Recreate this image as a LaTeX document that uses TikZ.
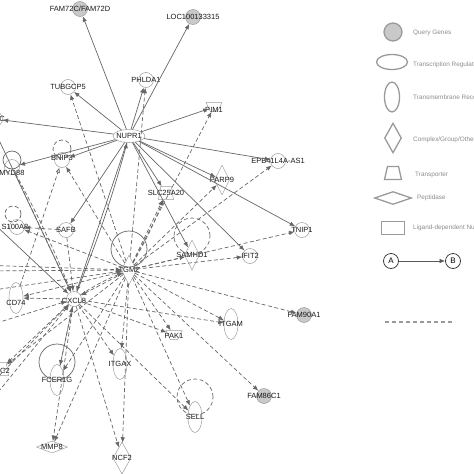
\documentclass[tikz,border=0pt]{standalone}
\usepackage{fontspec}
\setmainfont{Liberation Sans}
\usetikzlibrary{graphs, shapes.geometric, arrows.meta}
\definecolor{edgegray}{HTML}{666666}
\definecolor{nodegray}{HTML}{9C9C9C}
\definecolor{querygray}{HTML}{C9C9C9}
\definecolor{textgray}{HTML}{1A1A1A}
\definecolor{leggray}{HTML}{9A9A9A}
\definecolor{legtext}{HTML}{8C8C8C}

\begin{document}
\begin{tikzpicture}[x=1pt, y=-1pt, new set=import nodes,
>={Latex[length=5.5pt,width=4.5pt]},
every label/.style = {font=\fontsize{7.5}{8}\selectfont, text=textgray, inner sep=0pt},
shp/.style = {draw=nodegray, line width=0.5pt, inner sep=1pt, set=import nodes},
gene/.style = {shp, circle, minimum size=15pt},
query/.style = {gene, fill=querygray},
treg/.style = {shp, ellipse, minimum width=32pt, minimum height=13pt},
tmrec/.style = {shp, ellipse, minimum width=14pt, minimum height=31pt},
cplx/.style = {shp, diamond, minimum width=15pt, minimum height=30pt},
kin/.style = {shp, trapezium, shape border rotate=180, trapezium stretches=true,
              minimum width=16pt, minimum height=9pt},
transp/.style = {shp, trapezium, trapezium stretches=true, trapezium left angle=78,
                 trapezium right angle=78, minimum width=15pt, minimum height=13pt},
pept/.style = {shp, diamond, minimum width=31pt, minimum height=12pt},
rel/.style = {draw=edgegray, line width=0.7pt},
pred/.style = {dash pattern=on 4pt off 2.5pt},
loopd/.style = {rel, pred},
legshape/.style = {draw=leggray, line width=1.3pt, inner sep=1pt},
legtxt/.style = {anchor=west, inner sep=0pt, font=\fontsize{6.4}{7}\selectfont, text=legtext}]
\useasboundingbox (0,0) rectangle (474,474);

% genes of the network
\node[query] (FAM72) at (80,9) [label=center:FAM72C/FAM72D] {};
\node[query] (LOC) at (193,17) [label=center:LOC100133315] {};
\node[gene] (PHLDA1) at (146,80) [label=center:PHLDA1] {};
\node[gene] (TUBGCP5) at (68,87) [label=center:TUBGCP5] {};
\node[kin] (PIM1) at (214,107) [label={[yshift=-3pt]center:PIM1}] {};
\node[gene] (Cnode) at (-5,119) [label={[xshift=7pt]center:C}] {};
\node[treg] (NUPR1) at (129,136) [label=center:NUPR1] {};
\node[gene] (BNIP3) at (62,160) [label={[yshift=2pt]center:BNIP3}] {};
\node[gene] (MYD88) at (12,167) [label={[yshift=-6pt]center:MYD88}] {};
\node[gene] (EPB) at (278,161) [label=center:EPB41L4A-AS1] {};
\node[cplx] (PARP9) at (222,180) [label=center:PARP9] {};
\node[transp] (SLC) at (166,193) [label=center:SLC25A20] {};
\node[gene] (S100A8) at (17,227) [label={[xshift=-2pt]center:S100A8}] {};
\node[gene] (SAFB) at (66,230) [label=center:SAFB] {};
\node[gene] (TNIP1) at (302,230) [label=center:TNIP1] {};
\node[cplx] (SAMHD1) at (192,255) [label=center:SAMHD1] {};
\node[gene] (IFIT2) at (250,256) [label=center:IFIT2] {};
\node[cplx] (TGM2) at (129,270) [label=center:TGM2] {};
\node[gene] (CXCL8) at (74,299) [label={[yshift=-2pt]center:CXCL8}] {};
\node[tmrec] (CD74) at (16,298) [label={[yshift=-5pt]center:CD74}] {};
\node[transp] (C2) at (1,369) [label={[xshift=4pt,yshift=-2pt]center:C2}] {};
\node[tmrec] (FCER1G) at (57,380) [label=center:FCER1G] {};
\node[tmrec] (ITGAX) at (120,364) [label=center:ITGAX] {};
\node[kin] (PAK1) at (174,335) [label={[yshift=-1pt]center:PAK1}] {};
\node[tmrec] (ITGAM) at (231,324) [label=center:ITGAM] {};
\node[query] (FAM90A1) at (304,315) [label=center:FAM90A1] {};
\node[query] (FAM86C1) at (264,396) [label=center:FAM86C1] {};
\node[tmrec] (SELL) at (195,417) [label=center:SELL] {};
\node[pept] (MMP8) at (52,447) [label=center:MMP8] {};
\node[cplx, minimum width=18pt, minimum height=32pt] (NCF2) at (122,458) [label=center:NCF2] {};

% ends of links to genes outside the picture
\coordinate (offNW) at (-10,121);
\coordinate (offW1) at (-20,265);
\coordinate (offW2) at (-20,271);
\coordinate (offW3) at (-20,292);
\coordinate (offW4) at (-10,220);
\coordinate (offSW1) at (-10,325);
\coordinate (offSW2) at (-10,385);
\coordinate (offSW3) at (-10,402);

\graph[edges={rel}] {
(import nodes);
NUPR1 -> {FAM72, LOC, PHLDA1, TUBGCP5, PIM1, Cnode, EPB, BNIP3, MYD88,
          PARP9, TNIP1, SLC, SAMHD1, IFIT2, SAFB, CXCL8},
CXCL8 ->[bend right=3] NUPR1,
TGM2 ->[pred] {TUBGCP5, PHLDA1, PIM1, EPB, PARP9, TNIP1, IFIT2, SAMHD1, SLC,
               BNIP3, S100A8, CXCL8, CD74, C2, FCER1G, ITGAX, PAK1, ITGAM,
               FAM90A1, FAM86C1, SELL, NCF2, MMP8},
TGM2 ->[pred, bend right=4] SLC,
CXCL8 ->[pred, bend left=5] TGM2,
CXCL8 ->[pred] {CD74, C2, FCER1G, ITGAX, PAK1, ITGAM, SELL, NCF2, MMP8},
{MYD88, SAFB, FCER1G} ->[pred] CXCL8,
MYD88 ->[pred, bend left=3] CXCL8,
SAFB ->[pred] S100A8,
CD74 --[pred, -{Latex[open,length=5.5pt,width=4.5pt]}] BNIP3
};

\draw[rel, pred, ->] (offW1) -- (TGM2);
\draw[rel, pred, ->] (offW2) -- (TGM2);
\draw[rel, pred, ->] (offW3) -- (TGM2);
\draw[rel, pred, ->] (offSW1) -- (CXCL8);
\draw[rel, pred, ->] (offSW2) -- (CXCL8);
\draw[rel, pred, ->] (offSW3) -- (CXCL8);
\draw[rel, ->] (offNW) -- (CXCL8);
\draw[rel, ->] (offW4) -- (CXCL8);

% self loops
\draw[loopd] ([yshift=11pt]BNIP3.center) circle[radius=9pt];
\draw[loopd] ([xshift=-4pt,yshift=13pt]S100A8.center) circle[radius=8pt];
\draw[loopd] ([yshift=19pt]SAMHD1.center) circle[radius=18pt];
\draw[loopd] ([yshift=20pt]SELL.center) circle[radius=18pt];
\draw[rel] ([yshift=21pt]TGM2.center) circle[radius=18pt];
\draw[rel] ([yshift=18pt]FCER1G.center) circle[radius=18pt];
\draw[rel] ([yshift=7pt]MYD88.center) circle[radius=9pt];

% legend
\node[legshape, circle, fill=querygray, minimum size=18pt] (legQ) at (393,32) {};
\node[legshape, ellipse, minimum width=31pt, minimum height=15pt] (legT) at (392,62) {};
\node[legshape, ellipse, minimum width=15pt, minimum height=30pt] (legR) at (392,97) {};
\node[legshape, diamond, minimum width=17pt, minimum height=30pt] (legC) at (393,138) {};
\node[legshape, trapezium, trapezium stretches=true, trapezium left angle=75,
      trapezium right angle=75, minimum width=17pt, minimum height=13pt] (legTr) at (393,173) {};
\node[legshape, diamond, minimum width=37pt, minimum height=13pt] (legP) at (393,198) {};
\node[legshape, rectangle, minimum width=23pt, minimum height=13pt] (legL) at (393,228) {};
\node[legtxt] (legQtxt) at (413,33) {Query Genes};
\node[legtxt] (legTtxt) at (413,65) {Transcription Regulator};
\node[legtxt] (legRtxt) at (413,98) {Transmembrane Receptor};
\node[legtxt] (legCtxt) at (413,140) {Complex/Group/Other};
\node[legtxt] (legTrtxt) at (415,175) {Transporter};
\node[legtxt] (legPtxt) at (417,198) {Peptidase};
\node[legtxt] (legLtxt) at (413,228) {Ligand-dependent Nuclear Receptor};
\node[circle, draw=black!75, line width=0.8pt, minimum size=15pt, inner sep=0pt,
      font=\fontsize{8}{9}\selectfont] (legA) at (391,261) {A};
\node[circle, draw=black!75, line width=0.8pt, minimum size=15pt, inner sep=0pt,
      font=\fontsize{8}{9}\selectfont] (legB) at (453,261) {B};
\draw[draw=black!65, line width=0.7pt, ->] (legA) -- (legB);
\coordinate (legD1) at (385,322);
\coordinate (legD2) at (455,322);
\draw[draw=leggray, line width=1.3pt, dash pattern=on 4pt off 3pt] (legD1) -- (legD2);
\end{tikzpicture}
\end{document}
